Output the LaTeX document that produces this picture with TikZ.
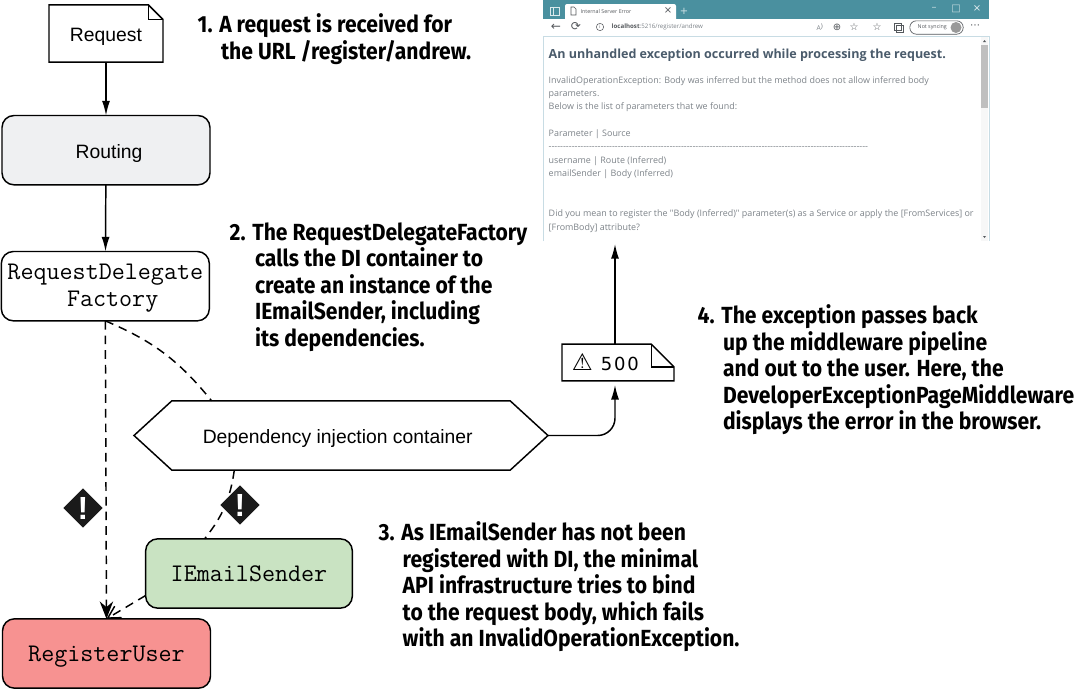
\documentclass[tikz,border=0pt]{standalone}
\usepackage{fontspec}
\setmainfont{Liberation Sans}
\newfontfamily\notefont[FakeStretch=0.905]{Fira Sans}
\newfontfamily\screenfont{Open Sans}
\newfontfamily\symbolfont{DejaVu Sans}
\usepackage{xcolor}
\usetikzlibrary{shapes,shapes.geometric,shapes.symbols,arrows.meta,positioning,calc}
\definecolor{routinggrey}{HTML}{EFF0F2}
\definecolor{sendergreen}{HTML}{C9E3C2}
\definecolor{userred}{HTML}{F79291}
\definecolor{chrometeal}{HTML}{4A909F}
\definecolor{screenedge}{HTML}{C8DCE4}
\definecolor{headgrey}{HTML}{4A5B6B}
\definecolor{bodygrey}{HTML}{7C8288}
\definecolor{iconink}{HTML}{55595D}
\definecolor{signdark}{HTML}{1A1A1A}
% outline of a page with a folded corner
\newcommand{\foldedpage}[2]{
  \draw (#1.north west) -- ([xshift=-#2]#1.north east) -- ([yshift=-#2]#1.north east) -- (#1.south east) -- (#1.south west) -- cycle;
  \draw ([xshift=-#2]#1.north east) |- ([yshift=-#2]#1.north east);
}

\begin{document}
\begin{tikzpicture}[x=0.75pt, y=-0.75pt, line width=1.1pt, node distance=40pt]
  % Styles
  \tikzstyle{page} = [rectangle, outer sep=0pt, inner sep=0pt, font=\fontsize{14.5}{17}\selectfont]
  \tikzstyle{stage} = [rectangle, draw, rounded corners=9pt, outer sep=0pt, minimum width=156pt, minimum height=52pt, align=center, font=\fontsize{14.5}{17}\selectfont]
  \tikzstyle{code} = [stage, font=\ttfamily\fontsize{19}{20}\selectfont]
  \tikzstyle{oneline} = [text height=14pt, text depth=2pt]
  \tikzstyle{codeline} = [text height=13pt, text depth=1pt]
  \tikzstyle{warn} = [diamond, fill=signdark, text=white, inner sep=0pt, minimum size=30pt, font=\bfseries\fontsize{24}{24}\selectfont]
  \tikzstyle{note} = [anchor=west, inner sep=0pt, align=left, font=\notefont\bfseries\fontsize{17.5}{19.9}\selectfont]
  \tikzstyle{arrow} = [draw, -{Latex[length=11pt,width=6pt]}]
  \tikzstyle{fails} = [draw, dashed, dash pattern=on 6.5pt off 4.5pt]
  \tikzstyle{chromeicon} = [inner sep=0pt, text=iconink, font=\symbolfont\fontsize{7.5}{7.5}\selectfont]
  \tikzstyle{chrometext} = [inner sep=0pt, text=iconink, font=\screenfont\fontsize{4}{5}\selectfont]

  \useasboundingbox (0,0) rectangle (1075,689);

  % Browser window
  \node[rectangle, anchor=north west, outer sep=0pt, inner sep=0pt, minimum width=334.5pt, minimum height=181pt] (shot) at (543,0) {};
  \fill[chrometeal] (543,0) rectangle (989,19);
  \fill[white, rounded corners=1.5pt] (565,4) -- (676,4) -- (676,22) -- (565,22) -- cycle;
  \fill[white] (543,19) rectangle (989,36);
  \fill[black!3] (981,37) rectangle (988,241);
  \fill[black!25] (981,45) rectangle (988,108);
  \fill[iconink] (983,42) -- (986,42) -- (984.5,40) -- cycle (983,236) -- (986,236) -- (984.5,238) -- cycle;
  \draw[screenedge, line width=0.7pt] (543,241) -- (543,36) -- (989,36) -- (989,241);
  \draw[white!80!chrometeal, line width=0.5pt] (550,7) rectangle (559,15) (553,7) -- (553,15);
  \node[chrometext] (tabtitle) at (606,11) {Internal Server Error};
  \draw[iconink, line width=0.5pt] (571,7) -- (574,7) -- (576,9) -- (576,15) -- (571,15) -- cycle;
  \node[chromeicon] (tabclose) at (668,11) {×};
  \node[chromeicon, text=white!75!chrometeal] (tabplus) at (684,11) {+};
  \node[chromeicon, text=white!70!chrometeal] (winmin) at (934,9) {–};
  \node[chromeicon, text=white!70!chrometeal] (winmax) at (956,9) {□};
  \node[chromeicon, text=white!85!chrometeal] (winclose) at (977,9) {×};
  \node[chromeicon, font=\symbolfont\fontsize{9}{9}\selectfont] (back) at (556,27) {←};
  \node[chromeicon, font=\symbolfont\fontsize{9}{9}\selectfont] (reload) at (576,27) {⟳};
  \node[circle, draw=iconink, line width=0.4pt, inner sep=0pt, minimum size=5.5pt, text=iconink, font=\screenfont\fontsize{3.5}{4}\selectfont] (info) at (600,27) {i};
  \node[chrometext, anchor=west, text=bodygrey, font=\screenfont\fontsize{4.6}{5}\selectfont] (url) at (611,27) {\textcolor{iconink}{\textbf{localhost}}:5216/register/andrew};
  \node[chrometext, text=bodygrey, font=\screenfont\fontsize{5}{5}\selectfont] (readaloud) at (820,27) {A\textsuperscript{\tiny)}};
  \node[chromeicon] (zoomicon) at (837,27) {⊕};
  \node[chromeicon] (staradd) at (854,27) {☆};
  \node[chromeicon] (favs) at (877,27) {☆};
  \draw[iconink, line width=0.5pt] (894,23) rectangle (901,30) (896,25) rectangle (903,32);
  \node[draw=iconink, line width=0.5pt, rounded corners=4.8pt, minimum width=40pt, minimum height=10pt, inner sep=0pt] (sync) at (936.5,27.5) {};
  \node[chrometext, anchor=west] (synctext) at (917,27.5) {Not syncing};
  \fill[black!40] (956,27.5) circle (5.5);
  \node[chromeicon] (more) at (975,27) {⋯};
  \node[anchor=west, inner sep=0pt, text=headgrey, font=\screenfont\bfseries\fontsize{9.4}{11}\selectfont] (headline) at (548,55) {An unhandled exception occurred while processing the request.};
  \node[anchor=north west, inner sep=0pt, align=left, text=bodygrey, font=\screenfont\fontsize{6.7}{10.03}\selectfont] (errortext) at (548,75.5) {InvalidOperationException: Body was inferred but the method does not allow inferred body\\
    parameters.\\
    Below is the list of parameters that we found:\\
    \strut\\
    Parameter | Source\\
    \foreach \n in {1,...,111}{-}\\
    username | Route (Inferred)\\
    emailSender | Body (Inferred)\\
    \strut\\
    \strut\\
    Did you mean to register the "Body (Inferred)" parameter(s) as a Service or apply the [FromServices] or\\
    {[FromBody]} attribute?};

  % Nodes
  \node[page, oneline, minimum width=85.5pt, minimum height=43pt] (request) at (106,33.5) {Request};
  \node[stage, oneline, fill=routinggrey, below=40pt of request] (routing) {\hspace*{4.5pt}Routing};
  \node[code, below=50pt of routing, xshift=-0.5pt] (factory) {\rule{0pt}{15pt}RequestDelegate\\\hspace*{11pt}Factory};
  \node[signal, oneline, signal to=west and east, signal pointer angle=85, draw, outer sep=0pt, inner sep=0pt, minimum width=310.5pt, minimum height=52pt, font=\fontsize{14.5}{17}\selectfont] (container) at (341,435.5) {Dependency injection container\hspace*{5pt}};
  \node[code, codeline, fill=sendergreen, minimum width=155pt] (sender) at (249,573.5) {IEmailSender};
  \node[code, codeline, fill=userred] (user) at (106.5,653.5) {RegisterUser};
  \node[page, minimum width=84pt, minimum height=27.5pt] (error) at (618,362.5) {\symbolfont\fontsize{17.5}{16}\selectfont ⚠\hspace{6pt}\addfontfeature{LetterSpace=10}\fontsize{13.5}{16}\selectfont 500\hspace*{19pt}};
  \foldedpage{request}{11pt}
  \foldedpage{error}{17pt}

  % Notes
  \node[note] (noteone) at (197,39) {1. A request is received for\\\hspace*{17.5pt}the URL /register/andrew.};
  \node[note] (notetwo) at (229,287) {2. The RequestDelegateFactory\\\hspace*{19pt}calls the DI container to\\\hspace*{19pt}create an instance of the\\\hspace*{19pt}IEmailSender, including\\\hspace*{19pt}its dependencies.};
  \node[note] (notethree) at (378,587) {3. As IEmailSender has not been\\\hspace*{18pt}registered with DI, the minimal\\\hspace*{18pt}API infrastructure tries to bind\\\hspace*{18pt}to the request body, which fails\\\hspace*{18pt}with an InvalidOperationException.};
  \node[note] (notefour) at (697,370) {4. The exception passes back\\\hspace*{19pt}up the middleware pipeline\\\hspace*{19pt}and out to the user. Here, the\\\hspace*{19pt}DeveloperExceptionPageMiddleware\\\hspace*{19pt}displays the error in the browser.};

  % Edges
  \path[arrow] (request) -- (routing);
  \path[arrow] (routing) -- (factory);
  \path[fails, -{Stealth[length=13pt,width=10pt]}] (factory.south) -- (user.north);
  \path[fails] (factory.south) to[bend left=14] (container.165);
  \path[fails] (container.198) to[bend left=15] (sender.142);
  \path[fails, -{Straight Barb[length=9pt,width=10pt]}] (sender.192) -- (user.north);
  \path[arrow, rounded corners=13pt, shorten >=3pt] (container.east) -| ([xshift=-2.25pt]error.south);
  \path[arrow, shorten >=2pt] ([xshift=-2.25pt]error.north) -- ([xshift=-2.25pt]error.north |- shot.south);

  % Warning signs
  \node[warn] (warnuser) at (83,508) {!};
  \node[warn] (warnsender) at (240,505) {!};
\end{tikzpicture}
\end{document}
